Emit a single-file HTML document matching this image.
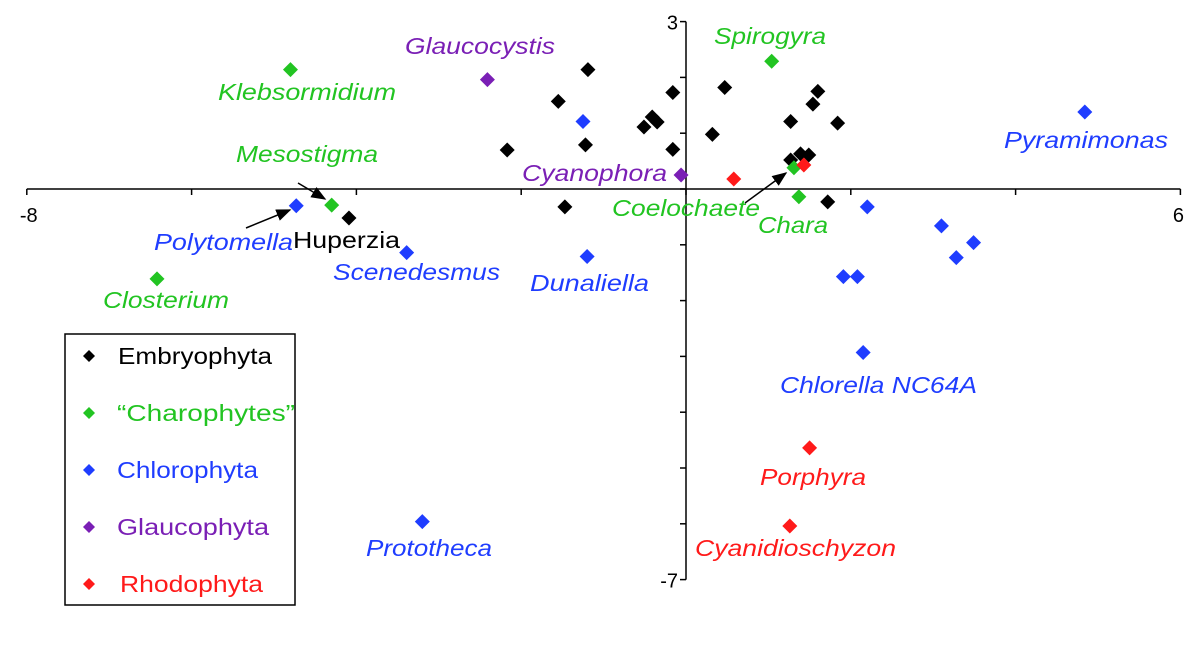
<!DOCTYPE html>
<html><head><meta charset="utf-8"><style>
html,body{margin:0;padding:0;background:#fff;}
svg{display:block;font-family:"Liberation Sans",sans-serif;}
.lab{font-size:23px;font-style:italic;}
</style></head><body>
<svg id="chart" width="1200" height="671" viewBox="0 0 1200 671"></svg>
<script>
const groupNames = ["Embryophyta","Charophytes","Chlorophyta","Glaucophyta","Rhodophyta"];
const groupColors = ["#000000","#22c422","#1f3dff","#7a1fb5","#ff1a1a"];
const embryoX = [-1.19,-1.55,-2.17,-1.22,-0.16,-0.41,-0.35,-0.51,-0.16,0.32,0.47,-1.47,-4.09,1.27,1.6,1.54,1.84,1.27,1.39,1.49,1.72];
const embryoY = [2.14,1.57,0.70,0.79,1.73,1.29,1.20,1.11,0.71,0.98,1.82,-0.32,-0.52,1.21,1.75,1.52,1.18,0.52,0.63,0.61,-0.23];
const charoX = [-4.8,1.04,-4.3,-6.42,1.31,1.37];
const charoY = [2.14,2.29,-0.29,-1.61,0.38,-0.14];
const chloroX = [4.84,-1.25,-4.73,-3.39,-1.2,2.2,3.1,3.49,3.28,1.91,2.08,2.15,-3.2];
const chloroY = [1.38,1.21,-0.30,-1.14,-1.21,-0.32,-0.66,-0.96,-1.23,-1.57,-1.57,-2.93,-5.96];
const glaucoX = [-2.41,-0.06];
const glaucoY = [1.96,0.25];
const rhodoX = [0.58,1.43,1.5,1.26];
const rhodoY = [0.18,0.43,-4.64,-6.04];
const xTicks = [-8,-6,-4,-2,0,2,4,6];
const yTicks = [3,2,1,0,-1,-2,-3,-4,-5,-6,-7];
const NS="http://www.w3.org/2000/svg";
const svg=document.getElementById('chart');
function X(v){return 686+82.4*v;}
function Y(v){return 189-55.8*v;}
function mk(t,a,p){const e=document.createElementNS(NS,t);for(const k in a)e.setAttribute(k,a[k]);(p||svg).appendChild(e);return e;}
let ax=mk('line',{x1:X(-8),y1:Y(0),x2:X(6),y2:Y(0),stroke:'#000','stroke-width':1.5});


let ay=mk('line',{x1:X(0),y1:Y(3),x2:X(0),y2:Y(-7),stroke:'#000','stroke-width':1.5});


xTicks.forEach(t=>{const l=mk('line',{x1:X(t),y1:Y(0),x2:X(t),y2:Y(0)+6,stroke:'#000','stroke-width':1.5});

});
yTicks.forEach(t=>{const l=mk('line',{x1:X(0)-6,y1:Y(t),x2:X(0),y2:Y(t),stroke:'#000','stroke-width':1.5});

});
[[-8,X(-8)+2,222],[6,X(6)-2,222]].forEach(d=>{const t=mk('text',{x:d[1],y:d[2],'font-size':20,'text-anchor':'middle'});t.textContent=d[0];

});
[[3,Y(3)+8],[-7,Y(-7)+8]].forEach(d=>{const t=mk('text',{x:X(0)-8,y:d[1],'font-size':20,'text-anchor':'end'});t.textContent=d[0];

});
function diamond(cx,cy,r,c){return mk('polygon',{points:`${cx},${cy-r} ${cx+r},${cy} ${cx},${cy+r} ${cx-r},${cy}`,fill:c});}
const sets=[[embryoX,embryoY],[charoX,charoY],[chloroX,chloroY],[glaucoX,glaucoY],[rhodoX,rhodoY]];
sets.forEach((s,g)=>{s[0].forEach((xv,i)=>{const p=diamond(X(xv),Y(s[1][i]),7.5,groupColors[g]);

});});
const labels=[["Glaucocystis",405,54,3,150],["Spirogyra",714,44,1,112],["Klebsormidium",218,100,1,178],["Mesostigma",236,162,1,142],["Cyanophora",522,181,3,145],["Pyramimonas",1004,148,2,164],["Coelochaete",612,216,1,148],["Chara",758,233,1,70],["Polytomella",154,250,2,139],["Scenedesmus",333,280,2,167],["Dunaliella",530,291,2,119],["Closterium",103,308,1,126],["Chlorella NC64A",780,393,2,197],["Porphyra",760,485,4,106],["Prototheca",366,556,2,126],["Cyanidioschyzon",695,556,4,201]];
labels.forEach(l=>{const t=mk('text',{x:l[1],y:l[2],fill:groupColors[l[3]],class:'lab',textLength:l[4],lengthAdjust:'spacingAndGlyphs'});t.textContent=l[0];

});
const hu=mk('text',{x:293,y:248,'font-size':23,textLength:107,lengthAdjust:'spacingAndGlyphs'});hu.textContent='Huperzia';


mk('defs',{}).innerHTML='<marker id="ah" markerWidth="10" markerHeight="8" refX="9" refY="4" orient="auto"><path d="M0,0 L10,4 L0,8 z" fill="#000"/></marker>';
[[298,183,325,199],[246,228,290,210],[745,203,786,173]].forEach(a=>{const l=mk('line',{x1:a[0],y1:a[1],x2:a[2],y2:a[3],stroke:'#000','stroke-width':1.5,'marker-end':'url(#ah)'});

});
const lg=mk('g',{});


mk('rect',{x:65,y:334,width:230,height:271,fill:'#fff',stroke:'#000','stroke-width':1.5},lg);
const legTexts=["Embryophyta","\u201cCharophytes\u201d","Chlorophyta","Glaucophyta","Rhodophyta"];
const legX=[118,117,117,117,120];
const legW=[154,178,141,152,143];
legTexts.forEach((s,i)=>{const y=356+i*57;const e=mk('g',{},lg);


mk('polygon',{points:`89,${y-6} 95,${y} 89,${y+6} 83,${y}`,fill:groupColors[i]},e);
const t=mk('text',{x:legX[i],y:y+8,'font-size':23,fill:groupColors[i],textLength:legW[i],lengthAdjust:'spacingAndGlyphs'},e);t.textContent=s;});
</script>
</body></html>
